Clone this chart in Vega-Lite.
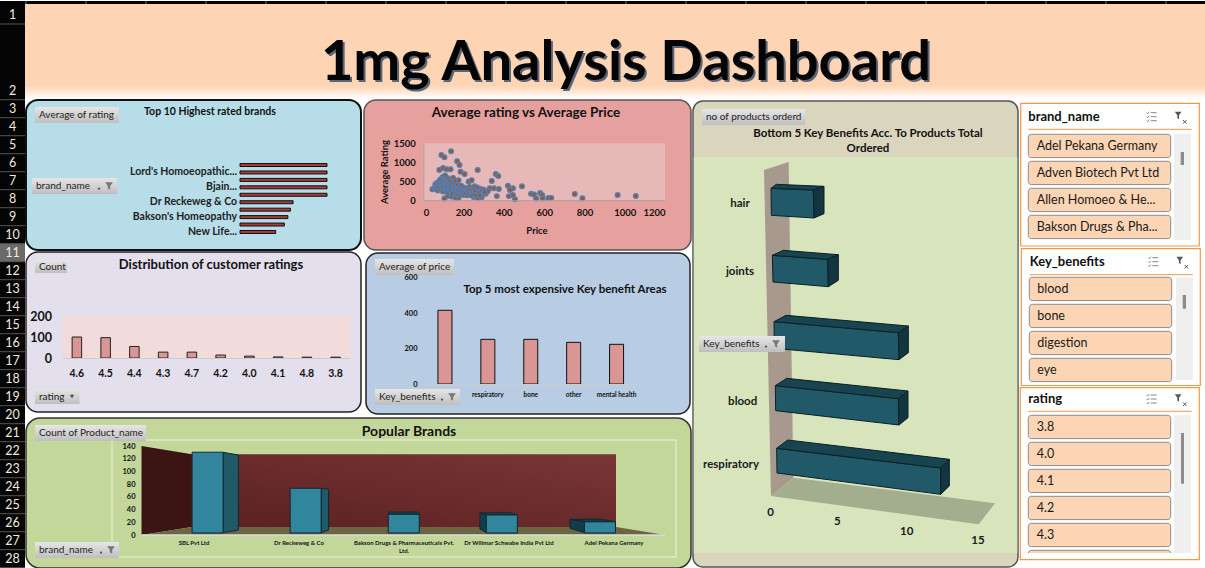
{
"$schema":"https://vega.github.io/schema/vega-lite/v6.json",
"description":"1mg Analysis Dashboard",
"padding":0,"background":"#ffffff",
"config":{"font":"Lato","view":{"stroke":null},"axis":{"domain":false,"labels":false,"grid":false,"ticks":false,"title":null,"labelFont":"Lato"},
"style":{"btnText":{"align":"left","fontSize":10,"color":"#222222"},
"cardTitle":{"fontWeight":"bold","color":"#111111"}}},
"data":{"values":[{"chrome":1}]},
"datasets":{
"rows":[{"row":1},{"row":2},{"row":3},{"row":4},{"row":5},{"row":6},{"row":7},{"row":8},{"row":9},{"row":10},{"row":11},{"row":12},{"row":13},{"row":14},{"row":15},{"row":16},{"row":17},{"row":18},{"row":19},{"row":20},{"row":21},{"row":22},{"row":23},{"row":24},{"row":25},{"row":26},{"row":27},{"row":28}],
"columns":[{"col":"A"},{"col":"B"},{"col":"C"},{"col":"D"},{"col":"E"},{"col":"F"},{"col":"G"},{"col":"H"},{"col":"I"},{"col":"J"},{"col":"K"},{"col":"L"},{"col":"M"},{"col":"N"},{"col":"O"},{"col":"P"},{"col":"Q"},{"col":"R"},{"col":"S"},{"col":"T"}],
"top10":[{"rank":1,"brand":"","avg":5},{"rank":2,"brand":"Lord's Homoeopathic...","avg":5},{"rank":3,"brand":"","avg":5},{"rank":4,"brand":"Bjain...","avg":5},{"rank":5,"brand":"","avg":5},{"rank":6,"brand":"Dr Reckeweg & Co","avg":3.05},{"rank":7,"brand":"","avg":2.9},{"rank":8,"brand":"Bakson's Homeopathy","avg":2.75},{"rank":9,"brand":"","avg":2.55},{"rank":10,"brand":"New Life...","avg":2.05}],
"scatter":[{"price":90,"rating":1190},{"price":105,"rating":1130},{"price":138,"rating":1290},{"price":168,"rating":1030},{"price":180,"rating":930},{"price":185,"rating":750},{"price":205,"rating":690},{"price":270,"rating":800},{"price":80,"rating":800},{"price":98,"rating":850},{"price":115,"rating":820},{"price":135,"rating":820},{"price":360,"rating":690},{"price":372,"rating":640},{"price":340,"rating":510},{"price":420,"rating":380},{"price":445,"rating":320},{"price":490,"rating":370},{"price":430,"rating":270},{"price":375,"rating":300},{"price":350,"rating":320},{"price":330,"rating":320},{"price":320,"rating":240},{"price":310,"rating":170},{"price":365,"rating":110},{"price":425,"rating":110},{"price":445,"rating":140},{"price":455,"rating":30},{"price":535,"rating":170},{"price":550,"rating":150},{"price":560,"rating":50},{"price":580,"rating":190},{"price":590,"rating":140},{"price":592,"rating":50},{"price":620,"rating":60},{"price":635,"rating":60},{"price":752,"rating":165},{"price":790,"rating":55},{"price":965,"rating":140},{"price":1055,"rating":115},{"price":270,"rating":60},{"price":290,"rating":80},{"price":250,"rating":90},{"price":105,"rating":50},{"price":120,"rating":110},{"price":160,"rating":70},{"price":175,"rating":60},{"price":140,"rating":100},{"price":45,"rating":290},{"price":55,"rating":330},{"price":60,"rating":420},{"price":62,"rating":300},{"price":68,"rating":360},{"price":70,"rating":470},{"price":72,"rating":260},{"price":78,"rating":430},{"price":80,"rating":320},{"price":82,"rating":520},{"price":85,"rating":550},{"price":88,"rating":280},{"price":90,"rating":390},{"price":92,"rating":460},{"price":95,"rating":340},{"price":96,"rating":610},{"price":98,"rating":230},{"price":100,"rating":500},{"price":102,"rating":620},{"price":104,"rating":420},{"price":106,"rating":300},{"price":108,"rating":650},{"price":110,"rating":360},{"price":112,"rating":470},{"price":114,"rating":250},{"price":116,"rating":540},{"price":118,"rating":400},{"price":120,"rating":310},{"price":122,"rating":580},{"price":124,"rating":200},{"price":126,"rating":450},{"price":128,"rating":350},{"price":130,"rating":280},{"price":132,"rating":520},{"price":135,"rating":410},{"price":138,"rating":240},{"price":140,"rating":330},{"price":142,"rating":480},{"price":145,"rating":180},{"price":148,"rating":590},{"price":150,"rating":380},{"price":152,"rating":290},{"price":155,"rating":440},{"price":158,"rating":220},{"price":160,"rating":520},{"price":162,"rating":340},{"price":165,"rating":270},{"price":168,"rating":160},{"price":170,"rating":400},{"price":172,"rating":300},{"price":175,"rating":530},{"price":178,"rating":230},{"price":180,"rating":130},{"price":182,"rating":350},{"price":185,"rating":270},{"price":188,"rating":380},{"price":190,"rating":170},{"price":195,"rating":300},{"price":198,"rating":220},{"price":200,"rating":140},{"price":205,"rating":330},{"price":208,"rating":260},{"price":210,"rating":190},{"price":215,"rating":300},{"price":218,"rating":130},{"price":220,"rating":240},{"price":225,"rating":490},{"price":228,"rating":170},{"price":230,"rating":350},{"price":235,"rating":280},{"price":238,"rating":130},{"price":240,"rating":530},{"price":245,"rating":220},{"price":248,"rating":300},{"price":252,"rating":160},{"price":255,"rating":370},{"price":260,"rating":250},{"price":262,"rating":130},{"price":268,"rating":340},{"price":275,"rating":200},{"price":280,"rating":130},{"price":285,"rating":300},{"price":290,"rating":270},{"price":300,"rating":280},{"price":305,"rating":210}],
"ratings":[{"rating":"4.6","count":100},{"rating":"4.5","count":97},{"rating":"4.4","count":55},{"rating":"4.3","count":28},{"rating":"4.7","count":28},{"rating":"4.2","count":14},{"rating":"4.0","count":9},{"rating":"4.1","count":5},{"rating":"4.8","count":4},{"rating":"3.8","count":4}],
"prices":[{"benefit":" ","price":416},{"benefit":"respiratory","price":252},{"benefit":"bone","price":252},{"benefit":"other","price":235},{"benefit":"mental health","price":224}],
"brands":[{"brand":"SBL Pvt Ltd","count":130},{"brand":"Dr Reckeweg & Co","count":72},{"brand":"Bakson Drugs & Pharmaceuticals Pvt. Ltd.","count":30},{"brand":"Dr Willmar Schwabe India Pvt Ltd","count":29},{"brand":"Adel Pekana Germany","count":18}],
"brandBack":[{"poly":"wallL","tone":"wallL","k":0,"u":317,"v":105},{"poly":"wallL","tone":"wallL","k":1,"u":430,"v":130},{"poly":"wallL","tone":"wallL","k":2,"u":430,"v":348},{"poly":"wallL","tone":"wallL","k":3,"u":317,"v":372},{"poly":"floor","tone":"floor","k":0,"u":317,"v":372},{"poly":"floor","tone":"floor","k":1,"u":430,"v":348},{"poly":"floor","tone":"floor","k":2,"u":1380,"v":348},{"poly":"floor","tone":"floor","k":3,"u":1490,"v":372}],
"brandFaces":[{"poly":"a","tone":"sideP","k":0,"u":500,"v":124},{"poly":"a","tone":"sideP","k":1,"u":534,"v":132},{"poly":"a","tone":"sideP","k":2,"u":534,"v":357},{"poly":"a","tone":"sideP","k":3,"u":500,"v":365},{"poly":"b","tone":"sideP","k":0,"u":720,"v":232},{"poly":"b","tone":"sideP","k":1,"u":736,"v":235},{"poly":"b","tone":"sideP","k":2,"u":736,"v":357},{"poly":"b","tone":"sideP","k":3,"u":720,"v":365},{"poly":"c","tone":"top","k":0,"u":870,"v":310},{"poly":"c","tone":"top","k":1,"u":940,"v":310},{"poly":"c","tone":"top","k":2,"u":936,"v":303},{"poly":"c","tone":"top","k":3,"u":872,"v":303},{"poly":"d","tone":"dark","k":0,"u":1090,"v":312},{"poly":"d","tone":"dark","k":1,"u":1075,"v":306},{"poly":"d","tone":"dark","k":2,"u":1075,"v":354},{"poly":"d","tone":"dark","k":3,"u":1090,"v":365},{"poly":"e","tone":"top","k":0,"u":1090,"v":312},{"poly":"e","tone":"top","k":1,"u":1158,"v":312},{"poly":"e","tone":"top","k":2,"u":1142,"v":305},{"poly":"e","tone":"top","k":3,"u":1075,"v":306},{"poly":"f","tone":"dark","k":0,"u":1310,"v":332},{"poly":"f","tone":"dark","k":1,"u":1277,"v":325},{"poly":"f","tone":"dark","k":2,"u":1277,"v":352},{"poly":"f","tone":"dark","k":3,"u":1310,"v":365},{"poly":"g","tone":"dark","k":0,"u":1310,"v":332},{"poly":"g","tone":"dark","k":1,"u":1378,"v":332},{"poly":"g","tone":"dark","k":2,"u":1345,"v":324},{"poly":"g","tone":"dark","k":3,"u":1277,"v":325}],
"benefitBack":[{"poly":"wall","tone":"wall","k":0,"u":222,"v":222},{"poly":"wall","tone":"wall","k":1,"u":296,"v":198},{"poly":"wall","tone":"wall","k":2,"u":310,"v":1145},{"poly":"wall","tone":"wall","k":3,"u":243,"v":1200},{"poly":"flat","tone":"flat","k":0,"u":243,"v":1200},{"poly":"flat","tone":"flat","k":1,"u":310,"v":1145},{"poly":"flat","tone":"flat","k":2,"u":915,"v":1222},{"poly":"flat","tone":"flat","k":3,"u":866,"v":1285}],
"benefitFaces":[
{"poly":"h1","tone":"front","k":0,"u":243,"v":277},{"poly":"h1","tone":"front","k":1,"u":370,"v":282},{"poly":"h1","tone":"front","k":2,"u":372,"v":366},{"poly":"h1","tone":"front","k":3,"u":244,"v":358},
{"poly":"h2","tone":"top","k":0,"u":243,"v":277},{"poly":"h2","tone":"top","k":1,"u":259,"v":265},{"poly":"h2","tone":"top","k":2,"u":402,"v":271},{"poly":"h2","tone":"top","k":3,"u":370,"v":282},
{"poly":"h3","tone":"side","k":0,"u":370,"v":282},{"poly":"h3","tone":"side","k":1,"u":402,"v":271},{"poly":"h3","tone":"side","k":2,"u":402,"v":353},{"poly":"h3","tone":"side","k":3,"u":372,"v":366},
{"poly":"j1","tone":"front","k":0,"u":247,"v":478},{"poly":"j1","tone":"front","k":1,"u":413,"v":490},{"poly":"j1","tone":"front","k":2,"u":415,"v":572},{"poly":"j1","tone":"front","k":3,"u":249,"v":558},
{"poly":"j2","tone":"top","k":0,"u":247,"v":478},{"poly":"j2","tone":"top","k":1,"u":280,"v":463},{"poly":"j2","tone":"top","k":2,"u":445,"v":476},{"poly":"j2","tone":"top","k":3,"u":413,"v":490},
{"poly":"j3","tone":"side","k":0,"u":413,"v":490},{"poly":"j3","tone":"side","k":1,"u":445,"v":476},{"poly":"j3","tone":"side","k":2,"u":445,"v":553},{"poly":"j3","tone":"side","k":3,"u":415,"v":572},
{"poly":"s1","tone":"front","k":0,"u":252,"v":677},{"poly":"s1","tone":"front","k":1,"u":625,"v":710},{"poly":"s1","tone":"front","k":2,"u":627,"v":791},{"poly":"s1","tone":"front","k":3,"u":253,"v":757},
{"poly":"s2","tone":"top","k":0,"u":252,"v":677},{"poly":"s2","tone":"top","k":1,"u":288,"v":658},{"poly":"s2","tone":"top","k":2,"u":655,"v":690},{"poly":"s2","tone":"top","k":3,"u":625,"v":710},
{"poly":"s3","tone":"side","k":0,"u":625,"v":710},{"poly":"s3","tone":"side","k":1,"u":655,"v":690},{"poly":"s3","tone":"side","k":2,"u":655,"v":770},{"poly":"s3","tone":"side","k":3,"u":627,"v":791},
{"poly":"b1","tone":"front","k":0,"u":256,"v":869},{"poly":"b1","tone":"front","k":1,"u":625,"v":908},{"poly":"b1","tone":"front","k":2,"u":627,"v":987},{"poly":"b1","tone":"front","k":3,"u":257,"v":944},
{"poly":"b2","tone":"top","k":0,"u":256,"v":869},{"poly":"b2","tone":"top","k":1,"u":290,"v":847},{"poly":"b2","tone":"top","k":2,"u":654,"v":885},{"poly":"b2","tone":"top","k":3,"u":625,"v":908},
{"poly":"b3","tone":"side","k":0,"u":625,"v":908},{"poly":"b3","tone":"side","k":1,"u":654,"v":885},{"poly":"b3","tone":"side","k":2,"u":654,"v":965},{"poly":"b3","tone":"side","k":3,"u":627,"v":987},
{"poly":"r1","tone":"front","k":0,"u":260,"v":1057},{"poly":"r1","tone":"front","k":1,"u":752,"v":1116},{"poly":"r1","tone":"front","k":2,"u":752,"v":1195},{"poly":"r1","tone":"front","k":3,"u":261,"v":1131},
{"poly":"r2","tone":"top","k":0,"u":260,"v":1057},{"poly":"r2","tone":"top","k":1,"u":293,"v":1032},{"poly":"r2","tone":"top","k":2,"u":778,"v":1090},{"poly":"r2","tone":"top","k":3,"u":752,"v":1116},
{"poly":"r3","tone":"side","k":0,"u":752,"v":1116},{"poly":"r3","tone":"side","k":1,"u":778,"v":1090},{"poly":"r3","tone":"side","k":2,"u":778,"v":1170},{"poly":"r3","tone":"side","k":3,"u":752,"v":1195}],
"benefitLabels":[{"label":"hair","u":150,"v":325},{"label":"joints","u":150,"v":528},{"label":"blood","u":158,"v":918},{"label":"respiratory","u":123,"v":1107},{"label":"0","u":242,"v":1250},{"label":"5","u":442,"v":1278},{"label":"10","u":650,"v":1308},{"label":"15","u":864,"v":1335}],
"slicerBrand":[{"item":"Adel Pekana Germany"},{"item":"Adven Biotech Pvt Ltd"},{"item":"Allen Homoeo & He..."},{"item":"Bakson Drugs & Pha..."}],
"slicerBenefit":[{"item":"blood"},{"item":"bone"},{"item":"digestion"},{"item":"eye"}],
"slicerRating":[{"item":"3.8"},{"item":"4.0"},{"item":"4.1"},{"item":"4.2"},{"item":"4.3"},{"item":"4.4"}]
},
"hconcat":[
{"width":25,"height":568,"resolve":{"scale":{"x":"independent","y":"independent"}},"layer":[
 {"mark":{"type":"rect","fill":"#050505"},"encoding":{"x":{"datum":0,"scale":{"domain":[0,25],"range":[0,25],"nice":false}},"x2":{"datum":25},"y":{"datum":0,"scale":{"domain":[0,568],"range":[0,568],"nice":false}},"y2":{"datum":568}}},
 {"data":{"name":"rows"},"encoding":{"y":{"field":"row","type":"quantitative","scale":{"domain":[1,2,28],"range":[14,89.7,557.7],"zero":false,"nice":false}}},"layer":[
  {"transform":[{"filter":"datum.row == 11"}],"mark":{"type":"rule","color":"#6a6a6a","strokeWidth":18,"clip":true}},
  {"mark":{"type":"rule","color":"#555555","strokeWidth":1,"yOffset":9,"clip":true}},
  {"mark":{"type":"text","color":"#f4e8dc","fontSize":12.5,"font":"Lato"},"encoding":{"text":{"field":"row","type":"ordinal"}}}
 ]}
]},
{"vconcat":[
 {"width":1180,"height":98,"resolve":{"scale":{"x":"independent","y":"independent"}},"layer":[
  {"layer":[
  {"mark":{"type":"rect","fill":{"gradient":"linear","x1":0,"y1":0,"x2":0,"y2":1,"stops":[{"offset":0,"color":"#fdd5b5"},{"offset":0.86,"color":"#fdd5b5"},{"offset":1,"color":"#ffffff"}]}},"encoding":{"x":{"datum":0,"scale":{"domain":[0,1180],"range":[0,1180],"nice":false}},"x2":{"datum":1180},"y":{"datum":3,"scale":{"domain":[0,98],"range":[0,98],"nice":false}},"y2":{"datum":98}}},
  {"mark":{"type":"rect","fill":"#050505"},"encoding":{"x":{"datum":0},"x2":{"datum":1180},"y":{"datum":0},"y2":{"datum":3}}},
  {"mark":{"type":"text","text":"1mg Analysis Dashboard","fontSize":56,"fontWeight":"bold","color":"#17375e","opacity":0.7,"dx":2,"dy":2},"encoding":{"x":{"datum":601},"y":{"datum":62}}},
  {"mark":{"type":"text","text":"1mg Analysis Dashboard","fontSize":56,"fontWeight":"bold","color":"#050505"},"encoding":{"x":{"datum":601},"y":{"datum":62}}}
  ]},
  {"data":{"name":"columns"},"mark":{"type":"rule","color":"#666666","strokeWidth":1},"encoding":{"x":{"field":"col","type":"nominal","bandPosition":0,"scale":{"type":"band","range":[1,1201]}},"y":{"datum":0,"scale":{"domain":[0,98],"range":[0,98],"nice":false}},"y2":{"datum":3}}}
 ]},
 {"hconcat":[
  {"vconcat":[
   {"hconcat":[
    {"width":338,"height":152,"resolve":{"scale":{"x":"independent","y":"independent"}},"layer":[
     {"layer":[
      {"mark":{"type":"rect","fill":"#b7dde8","stroke":"#111111","strokeWidth":2,"cornerRadius":12},"encoding":{"x":{"datum":1,"scale":{"domain":[0,338],"range":[0,338],"nice":false}},"x2":{"datum":336},"y":{"datum":1,"scale":{"domain":[0,152],"range":[0,152],"nice":false}},"y2":{"datum":151}}},
      {"mark":{"type":"text","text":"Top 10 Highest rated brands","style":"cardTitle","fontSize":10.5},"encoding":{"x":{"datum":185},"y":{"datum":13}}}
     ]},
     {"data":{"name":"top10"},"encoding":{"y":{"field":"rank","type":"ordinal","axis":null,"scale":{"type":"band","range":[62.3,136.7]}},"x":{"field":"avg","type":"quantitative","axis":null,"scale":{"domain":[0,5],"range":[215,302],"nice":false}}},"layer":[
      {"mark":{"type":"bar","size":3,"fill":"#a63a3a","stroke":"#111111","strokeWidth":1}},
      {"mark":{"type":"text","align":"right","dx":-3,"fontSize":10.5,"fontWeight":"bold","color":"#222222"},"encoding":{"x":{"datum":0,"axis":null},"text":{"field":"brand"}}}
     ]},
     {"layer":[
      {"mark":{"type":"rect","fill":{"gradient":"linear","x1":0,"y1":0,"x2":0,"y2":1,"stops":[{"offset":0,"color":"#e6e6e6"},{"offset":1,"color":"#bfbfbf"}]}},"encoding":{"x":{"datum":10,"scale":{"domain":[0,338],"range":[0,338],"nice":false}},"x2":{"datum":94},"y":{"datum":8,"scale":{"domain":[0,152],"range":[0,152],"nice":false}},"y2":{"datum":24}}},
      {"mark":{"type":"text","text":"Average of rating","style":"btnText"},"encoding":{"x":{"datum":14},"y":{"datum":16}}},
      {"mark":{"type":"rect","fill":{"gradient":"linear","x1":0,"y1":0,"x2":0,"y2":1,"stops":[{"offset":0,"color":"#e6e6e6"},{"offset":1,"color":"#bfbfbf"}]}},"encoding":{"x":{"datum":7},"x2":{"datum":92},"y":{"datum":79},"y2":{"datum":95}}},
      {"mark":{"type":"text","text":"brand_name","style":"btnText"},"encoding":{"x":{"datum":11},"y":{"datum":87}}},
      {"mark":{"type":"point","shape":"M-1,-1L1,-1L0.3,0V1L-0.3,0.6V0Z","filled":true,"color":"#777777","size":60,"opacity":1},"encoding":{"x":{"datum":84},"y":{"datum":87}}},
      {"mark":{"type":"point","shape":"triangle-down","filled":true,"color":"#444444","size":7,"opacity":1},"encoding":{"x":{"datum":74},"y":{"datum":90}}}
     ]}
    ]},
    {"width":329,"height":152,"resolve":{"scale":{"x":"independent","y":"independent"}},"layer":[
     {"layer":[
      {"mark":{"type":"rect","fill":"#e6a09e","stroke":"#555555","strokeWidth":1.5,"cornerRadius":12},"encoding":{"x":{"datum":1,"scale":{"domain":[0,329],"range":[0,329],"nice":false}},"x2":{"datum":328},"y":{"datum":1,"scale":{"domain":[0,152],"range":[0,152],"nice":false}},"y2":{"datum":151}}},
      {"mark":{"type":"rect","fill":"#e6b8b7"},"encoding":{"x":{"datum":60.3},"x2":{"datum":302},"y":{"datum":44.3},"y2":{"datum":101.3}}},
      {"mark":{"type":"text","text":"Average rating vs Average Price","style":"cardTitle","fontSize":13.5},"encoding":{"x":{"datum":163},"y":{"datum":14}}},
      {"mark":{"type":"text","text":"Price","style":"cardTitle","fontSize":9.5},"encoding":{"x":{"datum":174},"y":{"datum":132}}},
      {"mark":{"type":"text","text":"Average Rating","style":"cardTitle","fontSize":9.5,"angle":270},"encoding":{"x":{"datum":22},"y":{"datum":73}}}
     ]},
     {"data":{"name":"scatter"},"mark":{"type":"point","filled":true,"fill":"#a5541f","stroke":"#4f81bd","strokeWidth":1.3,"size":22,"opacity":1},
      "encoding":{"x":{"field":"price","type":"quantitative","scale":{"domain":[0,1200],"range":[60.3,302],"nice":false},"axis":{"zindex":1,"title":null,"format":"d","labels":true,"domain":true,"orient":"bottom","offset":-50.7,"values":[0,200,400,600,800,1000,1200],"labelPadding":7,"labelFontSize":9.5,"labelFontWeight":"bold","labelColor":"#111111","domainColor":"#b0a0a0"}},
      "y":{"field":"rating","type":"quantitative","scale":{"domain":[0,1500],"range":[101.3,44.3],"nice":false},"axis":{"zindex":1,"title":null,"format":"d","labels":true,"domain":true,"orient":"left","offset":-60.3,"values":[0,500,1000,1500],"labelPadding":8,"labelFontSize":9.5,"labelFontWeight":"bold","labelColor":"#111111","domainColor":"#b0a0a0"}}}}
    ]}
   ],"spacing":0},
   {"hconcat":[
    {"width":338,"height":165,"resolve":{"scale":{"x":"independent","y":"independent"}},"layer":[
     {"layer":[
      {"mark":{"type":"rect","fill":"#e4dfec","stroke":"#222222","strokeWidth":1.5,"cornerRadius":12},"encoding":{"x":{"datum":1,"scale":{"domain":[0,338],"range":[0,338],"nice":false}},"x2":{"datum":336},"y":{"datum":1,"scale":{"domain":[0,165],"range":[0,165],"nice":false}},"y2":{"datum":161}}},
      {"mark":{"type":"rect","fill":"#f2dcdb"},"encoding":{"x":{"datum":37.5},"x2":{"datum":325},"y":{"datum":65},"y2":{"datum":107}}},
      {"mark":{"type":"text","text":"Distribution of customer ratings","style":"cardTitle","fontSize":13},"encoding":{"x":{"datum":186},"y":{"datum":13.7}}}
     ]},
     {"data":{"name":"ratings"},"mark":{"type":"bar","size":9.5,"fill":"#d99694","stroke":"#222222","strokeWidth":1},
      "encoding":{"x":{"field":"rating","type":"nominal","sort":null,"scale":{"type":"band","range":[37.5,325]},"axis":{"zindex":1,"title":null,"labels":true,"domain":true,"orient":"bottom","offset":-58,"labelAngle":0,"labelPadding":10,"labelFontSize":10.5,"labelFontWeight":"bold","labelColor":"#111111","domainColor":"#cccccc"}},
      "y":{"field":"count","type":"quantitative","scale":{"domain":[0,200],"range":[107,65],"nice":false},"axis":{"zindex":1,"title":null,"labels":true,"orient":"left","offset":-37.5,"values":[0,100,200],"labelPadding":11,"labelFontSize":12.5,"labelFontWeight":"bold","labelColor":"#111111","domain":false}}}},
     {"layer":[
      {"mark":{"type":"rect","fill":{"gradient":"linear","x1":0,"y1":0,"x2":0,"y2":1,"stops":[{"offset":0,"color":"#e6e6e6"},{"offset":1,"color":"#bfbfbf"}]}},"encoding":{"x":{"datum":10,"scale":{"domain":[0,338],"range":[0,338],"nice":false}},"x2":{"datum":42},"y":{"datum":9,"scale":{"domain":[0,165],"range":[0,165],"nice":false}},"y2":{"datum":22}}},
      {"mark":{"type":"text","text":"Count","style":"btnText"},"encoding":{"x":{"datum":14},"y":{"datum":15.5}}},
      {"mark":{"type":"rect","fill":{"gradient":"linear","x1":0,"y1":0,"x2":0,"y2":1,"stops":[{"offset":0,"color":"#e6e6e6"},{"offset":1,"color":"#bfbfbf"}]}},"encoding":{"x":{"datum":10},"x2":{"datum":54.5},"y":{"datum":138},"y2":{"datum":153}}},
      {"mark":{"type":"text","text":"rating","style":"btnText"},"encoding":{"x":{"datum":14},"y":{"datum":145.5}}},
      {"mark":{"type":"point","shape":"triangle-down","filled":true,"color":"#444444","size":18,"opacity":1},"encoding":{"x":{"datum":47},"y":{"datum":145.5}}}
     ]}
    ]},
    {"width":329,"height":165,"resolve":{"scale":{"x":"independent","y":"independent"}},"layer":[
     {"layer":[
      {"mark":{"type":"rect","fill":"#b8cce4","stroke":"#222222","strokeWidth":1.5,"cornerRadius":12},"encoding":{"x":{"datum":3,"scale":{"domain":[0,329],"range":[0,329],"nice":false}},"x2":{"datum":327},"y":{"datum":2,"scale":{"domain":[0,165],"range":[0,165],"nice":false}},"y2":{"datum":163}}},
      {"mark":{"type":"text","text":"Top 5 most expensive Key benefit Areas","style":"cardTitle","fontSize":11.5},"encoding":{"x":{"datum":202},"y":{"datum":39}}}
     ]},
     {"data":{"name":"prices"},"mark":{"type":"bar","size":14,"fill":"#d99694","stroke":"#111111","strokeWidth":1},
      "encoding":{"x":{"field":"benefit","type":"nominal","sort":null,"scale":{"type":"band","range":[60.5,275]},"axis":{"zindex":1,"title":null,"labels":true,"domain":true,"orient":"bottom","offset":-32,"labelAngle":0,"labelPadding":7,"labelFontSize":6.5,"labelFontWeight":"bold","labelColor":"#111111","domainColor":"#cccccc"}},
      "y":{"field":"price","type":"quantitative","scale":{"domain":[0,600],"range":[133,26.7],"nice":false},"axis":{"zindex":1,"title":null,"labels":true,"orient":"left","offset":-60,"values":[0,200,400,600],"labelPadding":6,"labelFontSize":7.5,"labelFontWeight":"bold","labelColor":"#111111","domain":false}}}},
     {"layer":[
      {"mark":{"type":"rect","fill":{"gradient":"linear","x1":0,"y1":0,"x2":0,"y2":1,"stops":[{"offset":0,"color":"#e6e6e6"},{"offset":1,"color":"#bfbfbf"}]}},"encoding":{"x":{"datum":12,"scale":{"domain":[0,329],"range":[0,329],"nice":false}},"x2":{"datum":91},"y":{"datum":8,"scale":{"domain":[0,165],"range":[0,165],"nice":false}},"y2":{"datum":24}}},
      {"mark":{"type":"text","text":"Average of price","style":"btnText"},"encoding":{"x":{"datum":16},"y":{"datum":16}}},
      {"mark":{"type":"rect","fill":{"gradient":"linear","x1":0,"y1":0,"x2":0,"y2":1,"stops":[{"offset":0,"color":"#e6e6e6"},{"offset":1,"color":"#bfbfbf"}]}},"encoding":{"x":{"datum":12},"x2":{"datum":97},"y":{"datum":138},"y2":{"datum":154}}},
      {"mark":{"type":"text","text":"Key_benefits","style":"btnText"},"encoding":{"x":{"datum":16},"y":{"datum":146}}},
      {"mark":{"type":"point","shape":"M-1,-1L1,-1L0.3,0V1L-0.3,0.6V0Z","filled":true,"color":"#777777","size":60,"opacity":1},"encoding":{"x":{"datum":89},"y":{"datum":146}}},
      {"mark":{"type":"point","shape":"triangle-down","filled":true,"color":"#444444","size":7,"opacity":1},"encoding":{"x":{"datum":79},"y":{"datum":149}}}
     ]}
    ]}
   ],"spacing":0},
   {"width":667,"height":153,"resolve":{"scale":{"x":"independent","y":"independent"}},"layer":[
    {"layer":[
     {"mark":{"type":"rect","fill":"#c4d79b","stroke":"#333333","strokeWidth":1.5,"cornerRadius":14},"encoding":{"x":{"datum":1,"scale":{"domain":[0,667],"range":[0,667],"nice":false}},"x2":{"datum":666},"y":{"datum":2,"scale":{"domain":[0,153],"range":[0,153],"nice":false}},"y2":{"datum":152}}},
     {"mark":{"type":"rect","fill":null,"stroke":"#d8e4bc","strokeWidth":2},"encoding":{"x":{"datum":87},"x2":{"datum":651},"y":{"datum":24},"y2":{"datum":141}}},
     {"mark":{"type":"rect","fill":{"gradient":"linear","x1":0,"y1":1,"x2":1,"y2":0,"stops":[{"offset":0,"color":"#5a2020"},{"offset":1,"color":"#7a3636"}]}},"encoding":{"x":{"datum":167},"x2":{"datum":591},"y":{"datum":38.3},"y2":{"datum":111}}},
     {"mark":{"type":"text","text":"Popular Brands","style":"cardTitle","fontSize":14},"encoding":{"x":{"datum":384},"y":{"datum":15.7}}}
    ]},
    {"encoding":{"x":{"field":"u","type":"quantitative","axis":null,"scale":{"domain":[0,1568],"range":[-25,675],"nice":false}},"y":{"field":"v","type":"quantitative","axis":null,"scale":{"domain":[0,474],"range":[-5,153],"nice":false}},"detail":{"field":"poly"},"order":{"field":"k"},"fill":{"field":"tone","type":"nominal","legend":null,"scale":{"domain":["wallL","floor","sideP","top","dark","wall","flat","front","side"],"range":["#3d1414","#6b6540","#215968","#17444f","#123d4c","#a8998f","#a3ae8f","#215968","#123540"]}}},"layer":[
     {"data":{"name":"brandBack"},"mark":{"type":"line","interpolate":"linear-closed","strokeWidth":0}},
     {"data":{"name":"brandFaces"},"mark":{"type":"line","interpolate":"linear-closed","stroke":"#0c2a33","strokeWidth":1}}
    ]},
    {"data":{"name":"brands"},"mark":{"type":"bar","size":31,"fill":"#31859c","stroke":"#0c2a33","strokeWidth":1},"encoding":{"x":{"field":"brand","type":"nominal","sort":null,"axis":null,"scale":{"type":"band","range":[133.55,624]}},"y":{"field":"count","type":"quantitative","axis":null,"scale":{"domain":[0,140],"range":[117,30],"nice":false}}}},
    {"data":{"name":"brands"},"mark":{"type":"bar","opacity":0},"encoding":{"x":{"field":"brand","type":"nominal","sort":null,"scale":{"type":"band","range":[116.5,641.5]},"axis":{"zindex":1,"title":null,"labels":true,"orient":"bottom","offset":-34,"labelAngle":0,"labelPadding":4,"labelFontSize":6,"labelFontWeight":"bold","labelColor":"#111111","labelLimit":200,"domain":false,"labelExpr":"datum.label == 'Bakson Drugs & Pharmaceuticals Pvt. Ltd.' ? ['Bakson Drugs & Pharmaceuticals Pvt.','Ltd.'] : datum.label"}},"y":{"field":"count","type":"quantitative","scale":{"domain":[0,140],"range":[119,30],"nice":false},"axis":{"zindex":1,"title":null,"labels":true,"orient":"left","offset":-116,"values":[0,20,40,60,80,100,120,140],"labelPadding":6,"labelFontSize":7.5,"labelFontWeight":"bold","labelColor":"#111111","domain":false}}}},
    {"layer":[
     {"mark":{"type":"rule","color":"#dddddd","strokeWidth":1.5},"encoding":{"x":{"datum":116.5,"scale":{"domain":[0,667],"range":[0,667],"nice":false}},"x2":{"datum":640},"y":{"datum":119,"scale":{"domain":[0,153],"range":[0,153],"nice":false}}}},
     {"mark":{"type":"rect","fill":{"gradient":"linear","x1":0,"y1":0,"x2":0,"y2":1,"stops":[{"offset":0,"color":"#e6e6e6"},{"offset":1,"color":"#bfbfbf"}]}},"encoding":{"x":{"datum":10},"x2":{"datum":121},"y":{"datum":9},"y2":{"datum":25}}},
     {"mark":{"type":"text","text":"Count of Product_name","style":"btnText"},"encoding":{"x":{"datum":14},"y":{"datum":17}}},
     {"mark":{"type":"rect","fill":{"gradient":"linear","x1":0,"y1":0,"x2":0,"y2":1,"stops":[{"offset":0,"color":"#e6e6e6"},{"offset":1,"color":"#bfbfbf"}]}},"encoding":{"x":{"datum":10},"x2":{"datum":94},"y":{"datum":126},"y2":{"datum":142}}},
     {"mark":{"type":"text","text":"brand_name","style":"btnText"},"encoding":{"x":{"datum":14},"y":{"datum":134}}},
     {"mark":{"type":"point","shape":"M-1,-1L1,-1L0.3,0V1L-0.3,0.6V0Z","filled":true,"color":"#777777","size":60,"opacity":1},"encoding":{"x":{"datum":86},"y":{"datum":134}}},
     {"mark":{"type":"point","shape":"triangle-down","filled":true,"color":"#444444","size":7,"opacity":1},"encoding":{"x":{"datum":76},"y":{"datum":137}}}
    ]}
   ]}
  ],"spacing":0},
  {"width":327,"height":470,"resolve":{"scale":{"x":"independent","y":"independent"}},"layer":[
   {"layer":[
    {"mark":{"type":"rect","fill":"#d9d6bd","stroke":"#555555","strokeWidth":1.5,"cornerRadius":10},"encoding":{"x":{"datum":1,"scale":{"domain":[0,327],"range":[0,327],"nice":false}},"x2":{"datum":326},"y":{"datum":2,"scale":{"domain":[0,470],"range":[0,470],"nice":false}},"y2":{"datum":468}}},
    {"mark":{"type":"rect","fill":"#d8e4bc"},"encoding":{"x":{"datum":1.8},"x2":{"datum":325.3},"y":{"datum":58},"y2":{"datum":454}}},
    {"mark":{"type":"text","text":"Bottom 5 Key Benefits Acc. To  Products Total","style":"cardTitle","fontSize":11.5},"encoding":{"x":{"datum":176},"y":{"datum":35}}},
    {"mark":{"type":"text","text":"Ordered","style":"cardTitle","fontSize":11.5},"encoding":{"x":{"datum":176},"y":{"datum":50}}}
   ]},
   {"encoding":{"x":{"field":"u","type":"quantitative","axis":null,"scale":{"domain":[0,990],"range":[-2,328],"nice":false}},"y":{"field":"v","type":"quantitative","axis":null,"scale":{"domain":[0,1400],"range":[-3,463.67],"nice":false}}},"layer":[
    {"data":{"name":"benefitBack"},"mark":{"type":"line","interpolate":"linear-closed","strokeWidth":0},"encoding":{"detail":{"field":"poly"},"order":{"field":"k"},"fill":{"field":"tone","type":"nominal","legend":null,"scale":{"domain":["wallL","floor","sideP","top","dark","wall","flat","front","side"],"range":["#3d1414","#6b6540","#215968","#17444f","#123d4c","#a8998f","#a3ae8f","#215968","#123540"]}}}},
    {"data":{"name":"benefitFaces"},"mark":{"type":"line","interpolate":"linear-closed","stroke":"#0b2027","strokeWidth":1},"encoding":{"detail":{"field":"poly"},"order":{"field":"k"},"fill":{"field":"tone","type":"nominal","legend":null,"scale":{"domain":["wallL","floor","sideP","top","dark","wall","flat","front","side"],"range":["#3d1414","#6b6540","#215968","#17444f","#123d4c","#a8998f","#a3ae8f","#215968","#123540"]}}}},
    {"data":{"name":"benefitLabels"},"mark":{"type":"text","fontSize":11.5,"fontWeight":"bold","color":"#1a1a1a"},"encoding":{"text":{"field":"label"}}}
   ]},
   {"layer":[
    {"mark":{"type":"rect","fill":{"gradient":"linear","x1":0,"y1":0,"x2":0,"y2":1,"stops":[{"offset":0,"color":"#e6e6e6"},{"offset":1,"color":"#bfbfbf"}]}},"encoding":{"x":{"datum":10,"scale":{"domain":[0,327],"range":[0,327],"nice":false}},"x2":{"datum":113},"y":{"datum":10,"scale":{"domain":[0,470],"range":[0,470],"nice":false}},"y2":{"datum":26}}},
    {"mark":{"type":"text","text":"no of products  orderd","style":"btnText"},"encoding":{"x":{"datum":14},"y":{"datum":18}}},
    {"mark":{"type":"rect","fill":{"gradient":"linear","x1":0,"y1":0,"x2":0,"y2":1,"stops":[{"offset":0,"color":"#e6e6e6"},{"offset":1,"color":"#bfbfbf"}]}},"encoding":{"x":{"datum":7},"x2":{"datum":93},"y":{"datum":237},"y2":{"datum":253}}},
    {"mark":{"type":"text","text":"Key_benefits","style":"btnText"},"encoding":{"x":{"datum":11},"y":{"datum":245}}},
    {"mark":{"type":"point","shape":"M-1,-1L1,-1L0.3,0V1L-0.3,0.6V0Z","filled":true,"color":"#777777","size":60,"opacity":1},"encoding":{"x":{"datum":84},"y":{"datum":245}}},
    {"mark":{"type":"point","shape":"triangle-down","filled":true,"color":"#444444","size":7,"opacity":1},"encoding":{"x":{"datum":74},"y":{"datum":248}}}
   ]}
  ]},
  {"vconcat":[
   {"width":186,"height":148,"resolve":{"scale":{"x":"independent","y":"independent"}},"layer":[
    {"layer":[
     {"mark":{"type":"rect","fill":"#ffffff","stroke":"#f79646","strokeWidth":1.2},"encoding":{"x":{"datum":1.7,"scale":{"domain":[0,186],"range":[0,186],"nice":false}},"x2":{"datum":180.3},"y":{"datum":4.3,"scale":{"domain":[0,148],"range":[0,148],"nice":false}},"y2":{"datum":147}}},
     {"mark":{"type":"text","text":"brand_name","align":"left","fontSize":13,"fontWeight":"bold","color":"#111111"},"encoding":{"x":{"datum":9.3},"y":{"datum":17.7}}},
     {"mark":{"type":"rule","color":"#f79646","strokeWidth":1},"encoding":{"x":{"datum":9.3},"x2":{"datum":172.6},"y":{"datum":30.3}}},
     {"mark":{"type":"point","shape":"M-0.2,-0.8H1M-0.2,0H1M-0.2,0.8H1M-1,-0.8L-0.8,-0.6L-0.5,-1M-1,0L-0.8,0.2L-0.5,-0.2M-1,0.8L-0.8,1L-0.5,0.6","color":"#888888","strokeWidth":1,"size":100,"opacity":1},"encoding":{"x":{"datum":132.7},"y":{"datum":17.7}}},
     {"mark":{"type":"point","shape":"M-1,-1H0.6L0,-0.2V0.8L-0.4,0.5V-0.2Z","filled":true,"color":"#555555","size":70,"opacity":1},"encoding":{"x":{"datum":160},"y":{"datum":17}}},
     {"mark":{"type":"point","shape":"M0,0L1,1M1,0L0,1","color":"#555555","strokeWidth":1,"size":50,"opacity":1},"encoding":{"x":{"datum":164},"y":{"datum":21}}},
     {"mark":{"type":"rect","fill":"#efefef"},"encoding":{"x":{"datum":155},"x2":{"datum":172},"y":{"datum":34.7},"y2":{"datum":141}}},
     {"mark":{"type":"rect","fill":"#8c8c8c"},"encoding":{"x":{"datum":161.7},"x2":{"datum":165},"y":{"datum":53},"y2":{"datum":66}}}
    ]},
    {"data":{"name":"slicerBrand"},"encoding":{"y":{"field":"item","type":"nominal","sort":null,"axis":null,"scale":{"type":"band","range":[35.3,139.6],"paddingInner":0.137,"paddingOuter":0}}},"layer":[
     {"mark":{"type":"rect","fill":"#fcd5b4","stroke":"#8c8c8c","strokeWidth":1,"cornerRadius":3},"encoding":{"x":{"datum":9.3,"scale":{"domain":[0,186],"range":[0,186],"nice":false}},"x2":{"datum":151.7}}},
     {"mark":{"type":"text","align":"left","fontSize":12.5,"color":"#1a1a1a"},"encoding":{"x":{"datum":17.7},"text":{"field":"item"}}}
    ]}
   ]},
   {"width":186,"height":139,"resolve":{"scale":{"x":"independent","y":"independent"}},"layer":[
    {"layer":[
     {"mark":{"type":"rect","fill":"#ffffff","stroke":"#f79646","strokeWidth":1.2},"encoding":{"x":{"datum":2.3,"scale":{"domain":[0,186],"range":[0,186],"nice":false}},"x2":{"datum":181.3},"y":{"datum":1.7,"scale":{"domain":[0,139],"range":[0,139],"nice":false}},"y2":{"datum":138.5}}},
     {"mark":{"type":"text","text":"Key_benefits","align":"left","fontSize":13,"fontWeight":"bold","color":"#111111"},"encoding":{"x":{"datum":10.7},"y":{"datum":14.7}}},
     {"mark":{"type":"rule","color":"#f79646","strokeWidth":1},"encoding":{"x":{"datum":10.7},"x2":{"datum":173.7},"y":{"datum":27.7}}},
     {"mark":{"type":"point","shape":"M-0.2,-0.8H1M-0.2,0H1M-0.2,0.8H1M-1,-0.8L-0.8,-0.6L-0.5,-1M-1,0L-0.8,0.2L-0.5,-0.2M-1,0.8L-0.8,1L-0.5,0.6","color":"#888888","strokeWidth":1,"size":100,"opacity":1},"encoding":{"x":{"datum":134.3},"y":{"datum":14.7}}},
     {"mark":{"type":"point","shape":"M-1,-1H0.6L0,-0.2V0.8L-0.4,0.5V-0.2Z","filled":true,"color":"#555555","size":70,"opacity":1},"encoding":{"x":{"datum":161.6},"y":{"datum":14}}},
     {"mark":{"type":"point","shape":"M0,0L1,1M1,0L0,1","color":"#555555","strokeWidth":1,"size":50,"opacity":1},"encoding":{"x":{"datum":165.6},"y":{"datum":18}}},
     {"mark":{"type":"rect","fill":"#efefef"},"encoding":{"x":{"datum":157},"x2":{"datum":174},"y":{"datum":30.3},"y2":{"datum":133}}},
     {"mark":{"type":"rect","fill":"#8c8c8c"},"encoding":{"x":{"datum":163.7},"x2":{"datum":167},"y":{"datum":48},"y2":{"datum":61.7}}}
    ]},
    {"data":{"name":"slicerBenefit"},"encoding":{"y":{"field":"item","type":"nominal","sort":null,"axis":null,"scale":{"type":"band","range":[30.3,134.6],"paddingInner":0.137,"paddingOuter":0}}},"layer":[
     {"mark":{"type":"rect","fill":"#fcd5b4","stroke":"#8c8c8c","strokeWidth":1,"cornerRadius":3},"encoding":{"x":{"datum":10.3,"scale":{"domain":[0,186],"range":[0,186],"nice":false}},"x2":{"datum":152.7}}},
     {"mark":{"type":"text","align":"left","fontSize":12.5,"color":"#1a1a1a"},"encoding":{"x":{"datum":18.3},"text":{"field":"item"}}}
    ]}
   ]},
   {"width":186,"height":183,"resolve":{"scale":{"x":"independent","y":"independent"}},"layer":[
    {"layer":[
     {"mark":{"type":"text","text":"rating","align":"left","fontSize":13,"fontWeight":"bold","color":"#111111"},"encoding":{"x":{"datum":9.3,"scale":{"domain":[0,186],"range":[0,186],"nice":false}},"y":{"datum":12,"scale":{"domain":[0,183],"range":[0,183],"nice":false}}}},
     {"mark":{"type":"rule","color":"#f79646","strokeWidth":1},"encoding":{"x":{"datum":9.3},"x2":{"datum":172.6},"y":{"datum":24.3}}},
     {"mark":{"type":"point","shape":"M-0.2,-0.8H1M-0.2,0H1M-0.2,0.8H1M-1,-0.8L-0.8,-0.6L-0.5,-1M-1,0L-0.8,0.2L-0.5,-0.2M-1,0.8L-0.8,1L-0.5,0.6","color":"#888888","strokeWidth":1,"size":100,"opacity":1},"encoding":{"x":{"datum":132.7},"y":{"datum":12}}},
     {"mark":{"type":"point","shape":"M-1,-1H0.6L0,-0.2V0.8L-0.4,0.5V-0.2Z","filled":true,"color":"#555555","size":70,"opacity":1},"encoding":{"x":{"datum":160},"y":{"datum":11.5}}},
     {"mark":{"type":"point","shape":"M0,0L1,1M1,0L0,1","color":"#555555","strokeWidth":1,"size":50,"opacity":1},"encoding":{"x":{"datum":164},"y":{"datum":15.5}}},
     {"mark":{"type":"rect","fill":"#efefef"},"encoding":{"x":{"datum":155},"x2":{"datum":172},"y":{"datum":28.3},"y2":{"datum":166}}},
     {"mark":{"type":"rect","fill":"#8c8c8c"},"encoding":{"x":{"datum":162},"x2":{"datum":165},"y":{"datum":46},"y2":{"datum":96.7}}}
    ]},
    {"data":{"name":"slicerRating"},"encoding":{"y":{"field":"item","type":"nominal","sort":null,"axis":null,"scale":{"type":"band","range":[28.3,186.6],"paddingInner":0.137,"paddingOuter":0}}},"layer":[
     {"mark":{"type":"rect","fill":"#fcd5b4","stroke":"#8c8c8c","strokeWidth":1,"cornerRadius":3,"clip":true},"encoding":{"x":{"datum":9.3,"scale":{"domain":[0,186],"range":[0,186],"nice":false}},"x2":{"datum":151.7}}},
     {"mark":{"type":"text","align":"left","fontSize":12.5,"color":"#1a1a1a"},"encoding":{"x":{"datum":17.7},"text":{"field":"item"}}}
    ]},
    {"layer":[
     {"mark":{"type":"rect","fill":"#ffffff"},"encoding":{"x":{"datum":0,"scale":{"domain":[0,186],"range":[0,186],"nice":false}},"x2":{"datum":186},"y":{"datum":166,"scale":{"domain":[0,183],"range":[0,183],"nice":false}},"y2":{"datum":183}}},
     {"mark":{"type":"rect","fill":null,"stroke":"#f79646","strokeWidth":1.2},"encoding":{"x":{"datum":1.3},"x2":{"datum":180.3},"y":{"datum":0.7},"y2":{"datum":172.7}}}
    ]}
   ]}
  ],"spacing":0}
 ],"spacing":0}
],"spacing":0}
],"spacing":0
}
